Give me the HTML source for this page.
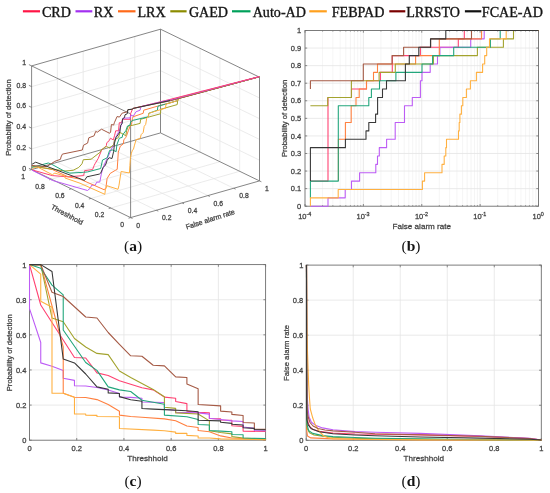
<!DOCTYPE html>
<html><head><meta charset="utf-8"><title>Detection performance comparison</title>
<style>html,body{margin:0;padding:0;background:#fff;}svg{display:block;}</style></head>
<body><svg width="550" height="493" viewBox="0 0 550 493">
<rect width="550" height="493" fill="#fff"/>
<defs>
<clipPath id="clipb"><rect x="305.0" y="29.5" width="234.5" height="177.7"/></clipPath>
<clipPath id="clipc"><rect x="28.5" y="263.6" width="238.1" height="177.6"/></clipPath>
<clipPath id="clipd"><rect x="305.2" y="264.1" width="237.1" height="177.2"/></clipPath>
</defs>
<line x1="22.9" y1="11.3" x2="40" y2="11.3" stroke="#ff1545" stroke-width="2.2" />
<text x="41.9" y="16.5" font-size="14.1" text-anchor="start" fill="#141414" font-family="'Liberation Serif', 'Times New Roman', serif" stroke="#141414" stroke-width="0.35" >CRD</text>
<line x1="75.5" y1="11.3" x2="92.3" y2="11.3" stroke="#a330f0" stroke-width="2.2" />
<text x="93.8" y="16.5" font-size="14.1" text-anchor="start" fill="#141414" font-family="'Liberation Serif', 'Times New Roman', serif" stroke="#141414" stroke-width="0.35" >RX</text>
<line x1="118" y1="11.3" x2="135.5" y2="11.3" stroke="#ff6a1a" stroke-width="2.2" />
<text x="137.4" y="16.5" font-size="14.1" text-anchor="start" fill="#141414" font-family="'Liberation Serif', 'Times New Roman', serif" stroke="#141414" stroke-width="0.35" >LRX</text>
<line x1="170.3" y1="11.3" x2="186.6" y2="11.3" stroke="#8c8c00" stroke-width="2.2" />
<text x="188.9" y="16.5" font-size="14.1" text-anchor="start" fill="#141414" font-family="'Liberation Serif', 'Times New Roman', serif" stroke="#141414" stroke-width="0.35" >GAED</text>
<line x1="232" y1="11.3" x2="250.5" y2="11.3" stroke="#00a05a" stroke-width="2.2" />
<text x="252.7" y="16.5" font-size="14.1" text-anchor="start" fill="#141414" font-family="'Liberation Serif', 'Times New Roman', serif" stroke="#141414" stroke-width="0.35" >Auto-AD</text>
<line x1="309.3" y1="11.3" x2="326.8" y2="11.3" stroke="#ffa01e" stroke-width="2.2" />
<text x="331.7" y="16.5" font-size="14.1" text-anchor="start" fill="#141414" font-family="'Liberation Serif', 'Times New Roman', serif" stroke="#141414" stroke-width="0.35" >FEBPAD</text>
<line x1="389.3" y1="11.3" x2="405.3" y2="11.3" stroke="#7a0000" stroke-width="2.2" />
<text x="406.2" y="16.5" font-size="14.1" text-anchor="start" fill="#141414" font-family="'Liberation Serif', 'Times New Roman', serif" stroke="#141414" stroke-width="0.35" >LRRSTO</text>
<line x1="464.9" y1="11.3" x2="481.3" y2="11.3" stroke="#111111" stroke-width="2.2" />
<text x="481.8" y="16.5" font-size="14.1" text-anchor="start" fill="#141414" font-family="'Liberation Serif', 'Times New Roman', serif" stroke="#141414" stroke-width="0.35" >FCAE-AD</text>
<line x1="322.57" y1="30.5" x2="322.57" y2="206.2" stroke="#f0f0f0" stroke-width="0.7" />
<line x1="332.85" y1="30.5" x2="332.85" y2="206.2" stroke="#f0f0f0" stroke-width="0.7" />
<line x1="340.15" y1="30.5" x2="340.15" y2="206.2" stroke="#f0f0f0" stroke-width="0.7" />
<line x1="345.8" y1="30.5" x2="345.8" y2="206.2" stroke="#f0f0f0" stroke-width="0.7" />
<line x1="350.42" y1="30.5" x2="350.42" y2="206.2" stroke="#f0f0f0" stroke-width="0.7" />
<line x1="354.33" y1="30.5" x2="354.33" y2="206.2" stroke="#f0f0f0" stroke-width="0.7" />
<line x1="357.72" y1="30.5" x2="357.72" y2="206.2" stroke="#f0f0f0" stroke-width="0.7" />
<line x1="360.7" y1="30.5" x2="360.7" y2="206.2" stroke="#f0f0f0" stroke-width="0.7" />
<line x1="380.95" y1="30.5" x2="380.95" y2="206.2" stroke="#f0f0f0" stroke-width="0.7" />
<line x1="391.23" y1="30.5" x2="391.23" y2="206.2" stroke="#f0f0f0" stroke-width="0.7" />
<line x1="398.52" y1="30.5" x2="398.52" y2="206.2" stroke="#f0f0f0" stroke-width="0.7" />
<line x1="404.18" y1="30.5" x2="404.18" y2="206.2" stroke="#f0f0f0" stroke-width="0.7" />
<line x1="408.8" y1="30.5" x2="408.8" y2="206.2" stroke="#f0f0f0" stroke-width="0.7" />
<line x1="412.71" y1="30.5" x2="412.71" y2="206.2" stroke="#f0f0f0" stroke-width="0.7" />
<line x1="416.09" y1="30.5" x2="416.09" y2="206.2" stroke="#f0f0f0" stroke-width="0.7" />
<line x1="419.08" y1="30.5" x2="419.08" y2="206.2" stroke="#f0f0f0" stroke-width="0.7" />
<line x1="439.32" y1="30.5" x2="439.32" y2="206.2" stroke="#f0f0f0" stroke-width="0.7" />
<line x1="449.6" y1="30.5" x2="449.6" y2="206.2" stroke="#f0f0f0" stroke-width="0.7" />
<line x1="456.9" y1="30.5" x2="456.9" y2="206.2" stroke="#f0f0f0" stroke-width="0.7" />
<line x1="462.55" y1="30.5" x2="462.55" y2="206.2" stroke="#f0f0f0" stroke-width="0.7" />
<line x1="467.17" y1="30.5" x2="467.17" y2="206.2" stroke="#f0f0f0" stroke-width="0.7" />
<line x1="471.08" y1="30.5" x2="471.08" y2="206.2" stroke="#f0f0f0" stroke-width="0.7" />
<line x1="474.47" y1="30.5" x2="474.47" y2="206.2" stroke="#f0f0f0" stroke-width="0.7" />
<line x1="477.45" y1="30.5" x2="477.45" y2="206.2" stroke="#f0f0f0" stroke-width="0.7" />
<line x1="497.7" y1="30.5" x2="497.7" y2="206.2" stroke="#f0f0f0" stroke-width="0.7" />
<line x1="507.98" y1="30.5" x2="507.98" y2="206.2" stroke="#f0f0f0" stroke-width="0.7" />
<line x1="515.27" y1="30.5" x2="515.27" y2="206.2" stroke="#f0f0f0" stroke-width="0.7" />
<line x1="520.93" y1="30.5" x2="520.93" y2="206.2" stroke="#f0f0f0" stroke-width="0.7" />
<line x1="525.55" y1="30.5" x2="525.55" y2="206.2" stroke="#f0f0f0" stroke-width="0.7" />
<line x1="529.46" y1="30.5" x2="529.46" y2="206.2" stroke="#f0f0f0" stroke-width="0.7" />
<line x1="532.84" y1="30.5" x2="532.84" y2="206.2" stroke="#f0f0f0" stroke-width="0.7" />
<line x1="535.83" y1="30.5" x2="535.83" y2="206.2" stroke="#f0f0f0" stroke-width="0.7" />
<line x1="363.38" y1="30.5" x2="363.38" y2="206.2" stroke="#e4e4e4" stroke-width="0.8" />
<line x1="421.75" y1="30.5" x2="421.75" y2="206.2" stroke="#e4e4e4" stroke-width="0.8" />
<line x1="480.12" y1="30.5" x2="480.12" y2="206.2" stroke="#e4e4e4" stroke-width="0.8" />
<line x1="305" y1="188.63" x2="538.5" y2="188.63" stroke="#e4e4e4" stroke-width="0.8" />
<line x1="305" y1="171.06" x2="538.5" y2="171.06" stroke="#e4e4e4" stroke-width="0.8" />
<line x1="305" y1="153.49" x2="538.5" y2="153.49" stroke="#e4e4e4" stroke-width="0.8" />
<line x1="305" y1="135.92" x2="538.5" y2="135.92" stroke="#e4e4e4" stroke-width="0.8" />
<line x1="305" y1="118.35" x2="538.5" y2="118.35" stroke="#e4e4e4" stroke-width="0.8" />
<line x1="305" y1="100.78" x2="538.5" y2="100.78" stroke="#e4e4e4" stroke-width="0.8" />
<line x1="305" y1="83.21" x2="538.5" y2="83.21" stroke="#e4e4e4" stroke-width="0.8" />
<line x1="305" y1="65.64" x2="538.5" y2="65.64" stroke="#e4e4e4" stroke-width="0.8" />
<line x1="305" y1="48.07" x2="538.5" y2="48.07" stroke="#e4e4e4" stroke-width="0.8" />
<rect x="305.0" y="30.5" width="233.5" height="175.7" fill="none" stroke="#6e6e6e" stroke-width="0.9"/>
<line x1="305" y1="206.2" x2="307.2" y2="206.2" stroke="#6e6e6e" stroke-width="0.8" />
<line x1="538.5" y1="206.2" x2="536.3" y2="206.2" stroke="#6e6e6e" stroke-width="0.8" />
<line x1="305" y1="188.63" x2="307.2" y2="188.63" stroke="#6e6e6e" stroke-width="0.8" />
<line x1="538.5" y1="188.63" x2="536.3" y2="188.63" stroke="#6e6e6e" stroke-width="0.8" />
<line x1="305" y1="171.06" x2="307.2" y2="171.06" stroke="#6e6e6e" stroke-width="0.8" />
<line x1="538.5" y1="171.06" x2="536.3" y2="171.06" stroke="#6e6e6e" stroke-width="0.8" />
<line x1="305" y1="153.49" x2="307.2" y2="153.49" stroke="#6e6e6e" stroke-width="0.8" />
<line x1="538.5" y1="153.49" x2="536.3" y2="153.49" stroke="#6e6e6e" stroke-width="0.8" />
<line x1="305" y1="135.92" x2="307.2" y2="135.92" stroke="#6e6e6e" stroke-width="0.8" />
<line x1="538.5" y1="135.92" x2="536.3" y2="135.92" stroke="#6e6e6e" stroke-width="0.8" />
<line x1="305" y1="118.35" x2="307.2" y2="118.35" stroke="#6e6e6e" stroke-width="0.8" />
<line x1="538.5" y1="118.35" x2="536.3" y2="118.35" stroke="#6e6e6e" stroke-width="0.8" />
<line x1="305" y1="100.78" x2="307.2" y2="100.78" stroke="#6e6e6e" stroke-width="0.8" />
<line x1="538.5" y1="100.78" x2="536.3" y2="100.78" stroke="#6e6e6e" stroke-width="0.8" />
<line x1="305" y1="83.21" x2="307.2" y2="83.21" stroke="#6e6e6e" stroke-width="0.8" />
<line x1="538.5" y1="83.21" x2="536.3" y2="83.21" stroke="#6e6e6e" stroke-width="0.8" />
<line x1="305" y1="65.64" x2="307.2" y2="65.64" stroke="#6e6e6e" stroke-width="0.8" />
<line x1="538.5" y1="65.64" x2="536.3" y2="65.64" stroke="#6e6e6e" stroke-width="0.8" />
<line x1="305" y1="48.07" x2="307.2" y2="48.07" stroke="#6e6e6e" stroke-width="0.8" />
<line x1="538.5" y1="48.07" x2="536.3" y2="48.07" stroke="#6e6e6e" stroke-width="0.8" />
<line x1="305" y1="30.5" x2="307.2" y2="30.5" stroke="#6e6e6e" stroke-width="0.8" />
<line x1="538.5" y1="30.5" x2="536.3" y2="30.5" stroke="#6e6e6e" stroke-width="0.8" />
<line x1="305" y1="206.2" x2="305" y2="204" stroke="#6e6e6e" stroke-width="0.8" />
<line x1="305" y1="30.5" x2="305" y2="32.7" stroke="#6e6e6e" stroke-width="0.8" />
<line x1="363.38" y1="206.2" x2="363.38" y2="204" stroke="#6e6e6e" stroke-width="0.8" />
<line x1="363.38" y1="30.5" x2="363.38" y2="32.7" stroke="#6e6e6e" stroke-width="0.8" />
<line x1="421.75" y1="206.2" x2="421.75" y2="204" stroke="#6e6e6e" stroke-width="0.8" />
<line x1="421.75" y1="30.5" x2="421.75" y2="32.7" stroke="#6e6e6e" stroke-width="0.8" />
<line x1="480.12" y1="206.2" x2="480.12" y2="204" stroke="#6e6e6e" stroke-width="0.8" />
<line x1="480.12" y1="30.5" x2="480.12" y2="32.7" stroke="#6e6e6e" stroke-width="0.8" />
<line x1="538.5" y1="206.2" x2="538.5" y2="204" stroke="#6e6e6e" stroke-width="0.8" />
<line x1="538.5" y1="30.5" x2="538.5" y2="32.7" stroke="#6e6e6e" stroke-width="0.8" />
<line x1="322.57" y1="206.2" x2="322.57" y2="205" stroke="#6e6e6e" stroke-width="0.6" />
<line x1="322.57" y1="30.5" x2="322.57" y2="31.7" stroke="#6e6e6e" stroke-width="0.6" />
<line x1="332.85" y1="206.2" x2="332.85" y2="205" stroke="#6e6e6e" stroke-width="0.6" />
<line x1="332.85" y1="30.5" x2="332.85" y2="31.7" stroke="#6e6e6e" stroke-width="0.6" />
<line x1="340.15" y1="206.2" x2="340.15" y2="205" stroke="#6e6e6e" stroke-width="0.6" />
<line x1="340.15" y1="30.5" x2="340.15" y2="31.7" stroke="#6e6e6e" stroke-width="0.6" />
<line x1="345.8" y1="206.2" x2="345.8" y2="205" stroke="#6e6e6e" stroke-width="0.6" />
<line x1="345.8" y1="30.5" x2="345.8" y2="31.7" stroke="#6e6e6e" stroke-width="0.6" />
<line x1="350.42" y1="206.2" x2="350.42" y2="205" stroke="#6e6e6e" stroke-width="0.6" />
<line x1="350.42" y1="30.5" x2="350.42" y2="31.7" stroke="#6e6e6e" stroke-width="0.6" />
<line x1="354.33" y1="206.2" x2="354.33" y2="205" stroke="#6e6e6e" stroke-width="0.6" />
<line x1="354.33" y1="30.5" x2="354.33" y2="31.7" stroke="#6e6e6e" stroke-width="0.6" />
<line x1="357.72" y1="206.2" x2="357.72" y2="205" stroke="#6e6e6e" stroke-width="0.6" />
<line x1="357.72" y1="30.5" x2="357.72" y2="31.7" stroke="#6e6e6e" stroke-width="0.6" />
<line x1="360.7" y1="206.2" x2="360.7" y2="205" stroke="#6e6e6e" stroke-width="0.6" />
<line x1="360.7" y1="30.5" x2="360.7" y2="31.7" stroke="#6e6e6e" stroke-width="0.6" />
<line x1="380.95" y1="206.2" x2="380.95" y2="205" stroke="#6e6e6e" stroke-width="0.6" />
<line x1="380.95" y1="30.5" x2="380.95" y2="31.7" stroke="#6e6e6e" stroke-width="0.6" />
<line x1="391.23" y1="206.2" x2="391.23" y2="205" stroke="#6e6e6e" stroke-width="0.6" />
<line x1="391.23" y1="30.5" x2="391.23" y2="31.7" stroke="#6e6e6e" stroke-width="0.6" />
<line x1="398.52" y1="206.2" x2="398.52" y2="205" stroke="#6e6e6e" stroke-width="0.6" />
<line x1="398.52" y1="30.5" x2="398.52" y2="31.7" stroke="#6e6e6e" stroke-width="0.6" />
<line x1="404.18" y1="206.2" x2="404.18" y2="205" stroke="#6e6e6e" stroke-width="0.6" />
<line x1="404.18" y1="30.5" x2="404.18" y2="31.7" stroke="#6e6e6e" stroke-width="0.6" />
<line x1="408.8" y1="206.2" x2="408.8" y2="205" stroke="#6e6e6e" stroke-width="0.6" />
<line x1="408.8" y1="30.5" x2="408.8" y2="31.7" stroke="#6e6e6e" stroke-width="0.6" />
<line x1="412.71" y1="206.2" x2="412.71" y2="205" stroke="#6e6e6e" stroke-width="0.6" />
<line x1="412.71" y1="30.5" x2="412.71" y2="31.7" stroke="#6e6e6e" stroke-width="0.6" />
<line x1="416.09" y1="206.2" x2="416.09" y2="205" stroke="#6e6e6e" stroke-width="0.6" />
<line x1="416.09" y1="30.5" x2="416.09" y2="31.7" stroke="#6e6e6e" stroke-width="0.6" />
<line x1="419.08" y1="206.2" x2="419.08" y2="205" stroke="#6e6e6e" stroke-width="0.6" />
<line x1="419.08" y1="30.5" x2="419.08" y2="31.7" stroke="#6e6e6e" stroke-width="0.6" />
<line x1="439.32" y1="206.2" x2="439.32" y2="205" stroke="#6e6e6e" stroke-width="0.6" />
<line x1="439.32" y1="30.5" x2="439.32" y2="31.7" stroke="#6e6e6e" stroke-width="0.6" />
<line x1="449.6" y1="206.2" x2="449.6" y2="205" stroke="#6e6e6e" stroke-width="0.6" />
<line x1="449.6" y1="30.5" x2="449.6" y2="31.7" stroke="#6e6e6e" stroke-width="0.6" />
<line x1="456.9" y1="206.2" x2="456.9" y2="205" stroke="#6e6e6e" stroke-width="0.6" />
<line x1="456.9" y1="30.5" x2="456.9" y2="31.7" stroke="#6e6e6e" stroke-width="0.6" />
<line x1="462.55" y1="206.2" x2="462.55" y2="205" stroke="#6e6e6e" stroke-width="0.6" />
<line x1="462.55" y1="30.5" x2="462.55" y2="31.7" stroke="#6e6e6e" stroke-width="0.6" />
<line x1="467.17" y1="206.2" x2="467.17" y2="205" stroke="#6e6e6e" stroke-width="0.6" />
<line x1="467.17" y1="30.5" x2="467.17" y2="31.7" stroke="#6e6e6e" stroke-width="0.6" />
<line x1="471.08" y1="206.2" x2="471.08" y2="205" stroke="#6e6e6e" stroke-width="0.6" />
<line x1="471.08" y1="30.5" x2="471.08" y2="31.7" stroke="#6e6e6e" stroke-width="0.6" />
<line x1="474.47" y1="206.2" x2="474.47" y2="205" stroke="#6e6e6e" stroke-width="0.6" />
<line x1="474.47" y1="30.5" x2="474.47" y2="31.7" stroke="#6e6e6e" stroke-width="0.6" />
<line x1="477.45" y1="206.2" x2="477.45" y2="205" stroke="#6e6e6e" stroke-width="0.6" />
<line x1="477.45" y1="30.5" x2="477.45" y2="31.7" stroke="#6e6e6e" stroke-width="0.6" />
<line x1="497.7" y1="206.2" x2="497.7" y2="205" stroke="#6e6e6e" stroke-width="0.6" />
<line x1="497.7" y1="30.5" x2="497.7" y2="31.7" stroke="#6e6e6e" stroke-width="0.6" />
<line x1="507.98" y1="206.2" x2="507.98" y2="205" stroke="#6e6e6e" stroke-width="0.6" />
<line x1="507.98" y1="30.5" x2="507.98" y2="31.7" stroke="#6e6e6e" stroke-width="0.6" />
<line x1="515.27" y1="206.2" x2="515.27" y2="205" stroke="#6e6e6e" stroke-width="0.6" />
<line x1="515.27" y1="30.5" x2="515.27" y2="31.7" stroke="#6e6e6e" stroke-width="0.6" />
<line x1="520.93" y1="206.2" x2="520.93" y2="205" stroke="#6e6e6e" stroke-width="0.6" />
<line x1="520.93" y1="30.5" x2="520.93" y2="31.7" stroke="#6e6e6e" stroke-width="0.6" />
<line x1="525.55" y1="206.2" x2="525.55" y2="205" stroke="#6e6e6e" stroke-width="0.6" />
<line x1="525.55" y1="30.5" x2="525.55" y2="31.7" stroke="#6e6e6e" stroke-width="0.6" />
<line x1="529.46" y1="206.2" x2="529.46" y2="205" stroke="#6e6e6e" stroke-width="0.6" />
<line x1="529.46" y1="30.5" x2="529.46" y2="31.7" stroke="#6e6e6e" stroke-width="0.6" />
<line x1="532.84" y1="206.2" x2="532.84" y2="205" stroke="#6e6e6e" stroke-width="0.6" />
<line x1="532.84" y1="30.5" x2="532.84" y2="31.7" stroke="#6e6e6e" stroke-width="0.6" />
<line x1="535.83" y1="206.2" x2="535.83" y2="205" stroke="#6e6e6e" stroke-width="0.6" />
<line x1="535.83" y1="30.5" x2="535.83" y2="31.7" stroke="#6e6e6e" stroke-width="0.6" />
<g clip-path="url(#clipb)">
<polyline points="310.4,181.1 328,181.1 328,97.43 351.5,97.43 351.5,89.07 366.5,89.07 366.5,80.7 380.4,80.7 380.4,72.33 392.3,72.33 392.3,55.6 420.4,55.6 420.4,47.23 458.3,47.23 458.3,38.87 464.3,38.87 464.3,30.5 538.5,30.5" fill="none" stroke="#ff4272" stroke-width="1.1" stroke-linejoin="round" />
<polyline points="310.4,206.2 328,206.2 328,197.83 345.2,197.83 345.2,189.47 351.5,189.47 351.5,181.1 359.6,181.1 359.6,172.73 375.8,172.73 375.8,164.37 377.5,164.37 377.5,156 379.3,156 379.3,147.63 386.6,147.63 386.6,139.27 395.2,139.27 395.2,122.53 404.5,122.53 404.5,105.8 412.3,105.8 412.3,97.43 420.4,97.43 420.4,80.7 422,80.7 422,72.33 430.2,72.33 430.2,63.97 437.5,63.97 437.5,55.6 439.9,55.6 439.9,47.23 470.7,47.23 470.7,38.87 484.2,38.87 484.2,30.5 538.5,30.5" fill="none" stroke="#bd5cf5" stroke-width="1.1" stroke-linejoin="round" />
<polyline points="338.4,181.1 338.4,181.1 338.4,139.27 345.4,139.27 345.4,122.53 351.2,122.53 351.2,105.8 356,105.8 356,97.43 359.2,97.43 359.2,89.07 366.5,89.07 366.5,80.7 373.5,80.7 373.5,72.33 377.5,72.33 377.5,63.97 415.6,63.97 415.6,55.6 439.3,55.6 439.3,38.87 481.6,38.87 481.6,30.5 538.5,30.5" fill="none" stroke="#ff8040" stroke-width="1.1" stroke-linejoin="round" />
<polyline points="310.4,105.8 327.7,105.8 327.7,97.43 351.4,97.43 351.4,80.7 379.1,80.7 379.1,72.33 395.3,72.33 395.3,63.97 433.4,63.97 433.4,55.6 477.4,55.6 477.4,47.23 503.4,47.23 503.4,38.87 513.5,38.87 513.5,30.5 538.5,30.5" fill="none" stroke="#a3a32e" stroke-width="1.1" stroke-linejoin="round" />
<polyline points="310.4,197.83 310.4,197.83 310.4,181.1 338.3,181.1 338.3,105.8 368.8,105.8 368.8,97.43 371.4,97.43 371.4,89.07 379.5,89.07 379.5,80.7 395.9,80.7 395.9,72.33 422,72.33 422,63.97 432.6,63.97 432.6,55.6 453.7,55.6 453.7,47.23 490.4,47.23 490.4,38.87 500.2,38.87 500.2,30.5 538.5,30.5" fill="none" stroke="#22a67c" stroke-width="1.1" stroke-linejoin="round" />
<polyline points="310.4,206.2 310.4,206.2 310.4,197.83 338.2,197.83 338.2,189.47 422.4,189.47 422.4,181.1 424.6,181.1 424.6,172.73 442,172.73 442,164.37 444.2,164.37 444.2,156 445.8,156 445.8,147.63 446.5,147.63 446.5,139.27 458.5,139.27 458.5,130.9 459.2,130.9 459.2,122.53 459.9,122.53 459.9,114.17 461.4,114.17 461.4,105.8 462.8,105.8 462.8,97.43 466.4,97.43 466.4,89.07 470.4,89.07 470.4,80.7 476.4,80.7 476.4,72.33 482.6,72.33 482.6,63.97 484.7,63.97 484.7,55.6 486.7,55.6 486.7,47.23 489.5,47.23 489.5,38.87 506.2,38.87 506.2,30.5 538.5,30.5" fill="none" stroke="#ffb040" stroke-width="1.1" stroke-linejoin="round" />
<polyline points="310.4,89.07 310.4,89.07 310.4,80.7 363.3,80.7 363.3,63.97 392.1,63.97 392.1,55.6 403.6,55.6 403.6,47.23 430.7,47.23 430.7,38.87 471.5,38.87 471.5,30.5 538.5,30.5" fill="none" stroke="#a55a45" stroke-width="1.1" stroke-linejoin="round" />
<polyline points="310.4,181.1 310.4,181.1 310.4,147.63 345.4,147.63 345.4,139.27 366,139.27 366,130.9 368.8,130.9 368.8,122.53 375.6,122.53 375.6,114.17 377.6,114.17 377.6,97.43 382.5,97.43 382.5,89.07 386.5,89.07 386.5,80.7 405.4,80.7 405.4,63.97 409.3,63.97 409.3,55.6 418.8,55.6 418.8,47.23 430.5,47.23 430.5,38.87 445.8,38.87 445.8,30.5 538.5,30.5" fill="none" stroke="#383838" stroke-width="1.1" stroke-linejoin="round" />
</g>
<text x="301.2" y="208.8" font-size="7.5" text-anchor="end" fill="#454545" font-family="'Liberation Sans', Arial, sans-serif" stroke="#454545" stroke-width="0.28" >0</text>
<text x="301.2" y="191.23" font-size="7.5" text-anchor="end" fill="#454545" font-family="'Liberation Sans', Arial, sans-serif" stroke="#454545" stroke-width="0.28" >0.1</text>
<text x="301.2" y="173.66" font-size="7.5" text-anchor="end" fill="#454545" font-family="'Liberation Sans', Arial, sans-serif" stroke="#454545" stroke-width="0.28" >0.2</text>
<text x="301.2" y="156.09" font-size="7.5" text-anchor="end" fill="#454545" font-family="'Liberation Sans', Arial, sans-serif" stroke="#454545" stroke-width="0.28" >0.3</text>
<text x="301.2" y="138.52" font-size="7.5" text-anchor="end" fill="#454545" font-family="'Liberation Sans', Arial, sans-serif" stroke="#454545" stroke-width="0.28" >0.4</text>
<text x="301.2" y="120.95" font-size="7.5" text-anchor="end" fill="#454545" font-family="'Liberation Sans', Arial, sans-serif" stroke="#454545" stroke-width="0.28" >0.5</text>
<text x="301.2" y="103.38" font-size="7.5" text-anchor="end" fill="#454545" font-family="'Liberation Sans', Arial, sans-serif" stroke="#454545" stroke-width="0.28" >0.6</text>
<text x="301.2" y="85.81" font-size="7.5" text-anchor="end" fill="#454545" font-family="'Liberation Sans', Arial, sans-serif" stroke="#454545" stroke-width="0.28" >0.7</text>
<text x="301.2" y="68.24" font-size="7.5" text-anchor="end" fill="#454545" font-family="'Liberation Sans', Arial, sans-serif" stroke="#454545" stroke-width="0.28" >0.8</text>
<text x="301.2" y="50.67" font-size="7.5" text-anchor="end" fill="#454545" font-family="'Liberation Sans', Arial, sans-serif" stroke="#454545" stroke-width="0.28" >0.9</text>
<text x="301.2" y="33.1" font-size="7.5" text-anchor="end" fill="#454545" font-family="'Liberation Sans', Arial, sans-serif" stroke="#454545" stroke-width="0.28" >1</text>
<text x="304.7" y="218.7" font-size="7.5" text-anchor="middle" fill="#454545" stroke="#454545" stroke-width="0.28" font-family="'Liberation Sans', Arial, sans-serif">10<tspan font-size="5.4" dy="-3.0">-4</tspan></text>
<text x="363.07" y="218.7" font-size="7.5" text-anchor="middle" fill="#454545" stroke="#454545" stroke-width="0.28" font-family="'Liberation Sans', Arial, sans-serif">10<tspan font-size="5.4" dy="-3.0">-3</tspan></text>
<text x="421.45" y="218.7" font-size="7.5" text-anchor="middle" fill="#454545" stroke="#454545" stroke-width="0.28" font-family="'Liberation Sans', Arial, sans-serif">10<tspan font-size="5.4" dy="-3.0">-2</tspan></text>
<text x="479.82" y="218.7" font-size="7.5" text-anchor="middle" fill="#454545" stroke="#454545" stroke-width="0.28" font-family="'Liberation Sans', Arial, sans-serif">10<tspan font-size="5.4" dy="-3.0">-1</tspan></text>
<text x="538.2" y="218.7" font-size="7.5" text-anchor="middle" fill="#454545" stroke="#454545" stroke-width="0.28" font-family="'Liberation Sans', Arial, sans-serif">10<tspan font-size="5.4" dy="-3.0">0</tspan></text>
<text x="421.8" y="228.8" font-size="8.1" text-anchor="middle" fill="#454545" font-family="'Liberation Sans', Arial, sans-serif" stroke="#454545" stroke-width="0.28" >False alarm rate</text>
<text x="0" y="0" font-size="7.65" text-anchor="middle" fill="#454545" font-family="'Liberation Sans', Arial, sans-serif" stroke="#454545" stroke-width="0.28" transform="translate(286.6,118.4) rotate(-90)">Probability of detection</text>
<text x="411" y="251" font-size="15.5" text-anchor="middle" fill="#141414" font-family="'Liberation Serif', 'Times New Roman', serif" >(<tspan font-weight="bold">b</tspan>)</text>
<line x1="76.72" y1="264.6" x2="76.72" y2="440.2" stroke="#e4e4e4" stroke-width="0.8" />
<line x1="29.5" y1="405.08" x2="265.6" y2="405.08" stroke="#e4e4e4" stroke-width="0.8" />
<line x1="123.94" y1="264.6" x2="123.94" y2="440.2" stroke="#e4e4e4" stroke-width="0.8" />
<line x1="29.5" y1="369.96" x2="265.6" y2="369.96" stroke="#e4e4e4" stroke-width="0.8" />
<line x1="171.16" y1="264.6" x2="171.16" y2="440.2" stroke="#e4e4e4" stroke-width="0.8" />
<line x1="29.5" y1="334.84" x2="265.6" y2="334.84" stroke="#e4e4e4" stroke-width="0.8" />
<line x1="218.38" y1="264.6" x2="218.38" y2="440.2" stroke="#e4e4e4" stroke-width="0.8" />
<line x1="29.5" y1="299.72" x2="265.6" y2="299.72" stroke="#e4e4e4" stroke-width="0.8" />
<rect x="29.5" y="264.6" width="236.1" height="175.6" fill="none" stroke="#6e6e6e" stroke-width="0.9"/>
<line x1="29.5" y1="440.2" x2="29.5" y2="438" stroke="#6e6e6e" stroke-width="0.8" />
<line x1="29.5" y1="264.6" x2="29.5" y2="266.8" stroke="#6e6e6e" stroke-width="0.8" />
<line x1="29.5" y1="440.2" x2="31.7" y2="440.2" stroke="#6e6e6e" stroke-width="0.8" />
<line x1="265.6" y1="440.2" x2="263.4" y2="440.2" stroke="#6e6e6e" stroke-width="0.8" />
<text x="26.4" y="443.2" font-size="7.5" text-anchor="end" fill="#454545" font-family="'Liberation Sans', Arial, sans-serif" stroke="#454545" stroke-width="0.28" >0</text>
<text x="29.5" y="450.6" font-size="7.5" text-anchor="middle" fill="#454545" font-family="'Liberation Sans', Arial, sans-serif" stroke="#454545" stroke-width="0.28" >0</text>
<line x1="76.72" y1="440.2" x2="76.72" y2="438" stroke="#6e6e6e" stroke-width="0.8" />
<line x1="76.72" y1="264.6" x2="76.72" y2="266.8" stroke="#6e6e6e" stroke-width="0.8" />
<line x1="29.5" y1="405.08" x2="31.7" y2="405.08" stroke="#6e6e6e" stroke-width="0.8" />
<line x1="265.6" y1="405.08" x2="263.4" y2="405.08" stroke="#6e6e6e" stroke-width="0.8" />
<text x="26.4" y="408.08" font-size="7.5" text-anchor="end" fill="#454545" font-family="'Liberation Sans', Arial, sans-serif" stroke="#454545" stroke-width="0.28" >0.2</text>
<text x="76.72" y="450.6" font-size="7.5" text-anchor="middle" fill="#454545" font-family="'Liberation Sans', Arial, sans-serif" stroke="#454545" stroke-width="0.28" >0.2</text>
<line x1="123.94" y1="440.2" x2="123.94" y2="438" stroke="#6e6e6e" stroke-width="0.8" />
<line x1="123.94" y1="264.6" x2="123.94" y2="266.8" stroke="#6e6e6e" stroke-width="0.8" />
<line x1="29.5" y1="369.96" x2="31.7" y2="369.96" stroke="#6e6e6e" stroke-width="0.8" />
<line x1="265.6" y1="369.96" x2="263.4" y2="369.96" stroke="#6e6e6e" stroke-width="0.8" />
<text x="26.4" y="372.96" font-size="7.5" text-anchor="end" fill="#454545" font-family="'Liberation Sans', Arial, sans-serif" stroke="#454545" stroke-width="0.28" >0.4</text>
<text x="123.94" y="450.6" font-size="7.5" text-anchor="middle" fill="#454545" font-family="'Liberation Sans', Arial, sans-serif" stroke="#454545" stroke-width="0.28" >0.4</text>
<line x1="171.16" y1="440.2" x2="171.16" y2="438" stroke="#6e6e6e" stroke-width="0.8" />
<line x1="171.16" y1="264.6" x2="171.16" y2="266.8" stroke="#6e6e6e" stroke-width="0.8" />
<line x1="29.5" y1="334.84" x2="31.7" y2="334.84" stroke="#6e6e6e" stroke-width="0.8" />
<line x1="265.6" y1="334.84" x2="263.4" y2="334.84" stroke="#6e6e6e" stroke-width="0.8" />
<text x="26.4" y="337.84" font-size="7.5" text-anchor="end" fill="#454545" font-family="'Liberation Sans', Arial, sans-serif" stroke="#454545" stroke-width="0.28" >0.6</text>
<text x="171.16" y="450.6" font-size="7.5" text-anchor="middle" fill="#454545" font-family="'Liberation Sans', Arial, sans-serif" stroke="#454545" stroke-width="0.28" >0.6</text>
<line x1="218.38" y1="440.2" x2="218.38" y2="438" stroke="#6e6e6e" stroke-width="0.8" />
<line x1="218.38" y1="264.6" x2="218.38" y2="266.8" stroke="#6e6e6e" stroke-width="0.8" />
<line x1="29.5" y1="299.72" x2="31.7" y2="299.72" stroke="#6e6e6e" stroke-width="0.8" />
<line x1="265.6" y1="299.72" x2="263.4" y2="299.72" stroke="#6e6e6e" stroke-width="0.8" />
<text x="26.4" y="302.72" font-size="7.5" text-anchor="end" fill="#454545" font-family="'Liberation Sans', Arial, sans-serif" stroke="#454545" stroke-width="0.28" >0.8</text>
<text x="218.38" y="450.6" font-size="7.5" text-anchor="middle" fill="#454545" font-family="'Liberation Sans', Arial, sans-serif" stroke="#454545" stroke-width="0.28" >0.8</text>
<line x1="265.6" y1="440.2" x2="265.6" y2="438" stroke="#6e6e6e" stroke-width="0.8" />
<line x1="265.6" y1="264.6" x2="265.6" y2="266.8" stroke="#6e6e6e" stroke-width="0.8" />
<line x1="29.5" y1="264.6" x2="31.7" y2="264.6" stroke="#6e6e6e" stroke-width="0.8" />
<line x1="265.6" y1="264.6" x2="263.4" y2="264.6" stroke="#6e6e6e" stroke-width="0.8" />
<text x="26.4" y="267.6" font-size="7.5" text-anchor="end" fill="#454545" font-family="'Liberation Sans', Arial, sans-serif" stroke="#454545" stroke-width="0.28" >1</text>
<text x="265.6" y="450.6" font-size="7.5" text-anchor="middle" fill="#454545" font-family="'Liberation Sans', Arial, sans-serif" stroke="#454545" stroke-width="0.28" >1</text>
<g clip-path="url(#clipc)">
<polyline points="29.5,264.6 40.74,305 74.47,357.5 85.71,358 96.96,372.9 108.2,375.5 119.44,380.8 130.69,384.3 141.93,387.8 153.17,389.9 164.41,397.1 175.66,398.2 175.66,401.5 186.9,403.6 186.9,411.3 198.14,412.4 209.39,412.7 209.39,418.5 220.63,418.9 220.63,420 231.87,420.2 231.87,425.7 243.11,426.4 243.11,431.1 265.6,431.5" fill="none" stroke="#ff4272" stroke-width="1.1" stroke-linejoin="round" />
<polyline points="29.5,264.6 29.5,308.7 40.74,342.5 40.74,362.9 51.99,366.2 63.23,370.5 63.23,378.2 74.47,380.4 74.47,385.8 85.71,386 96.96,387.5 108.2,389.9 119.44,393.5 119.44,397 130.69,397.4 141.93,398.2 141.93,402 164.41,402.5 164.41,409.3 175.66,410.2 175.66,412.4 198.14,412.9 209.39,414.1 209.39,418.2 220.63,419.5 231.87,420.9 243.11,421.5 243.11,427 254.36,428.4 254.36,430.5 265.6,430.7" fill="none" stroke="#bd5cf5" stroke-width="1.1" stroke-linejoin="round" />
<polyline points="29.5,264.6 40.74,264.6 63.23,347 63.23,393.3 74.47,397.2 85.71,397.5 96.96,399.6 108.2,404.5 119.44,411.2 119.44,415.1 130.69,416.5 141.93,417.3 164.41,418.9 175.66,420.7 186.9,426 198.14,427.5 198.14,430.5 209.39,431.8 220.63,435.9 231.87,438 265.6,439.6" fill="none" stroke="#ff8040" stroke-width="1.1" stroke-linejoin="round" />
<polyline points="29.5,264.6 40.74,264.6 51.99,318 63.23,321.8 74.47,338.5 85.71,347 96.96,353.4 108.2,354.6 119.44,371 130.69,377.5 141.93,383.5 153.17,389.4 164.41,396.8 164.41,407.3 175.66,408.4 175.66,412.9 198.14,414 209.39,420.9 209.39,430.7 220.63,432.5 231.87,433.9 231.87,436.6 243.11,438 265.6,439.3" fill="none" stroke="#a3a32e" stroke-width="1.1" stroke-linejoin="round" />
<polyline points="29.5,264.6 40.74,268.2 51.99,285.1 63.23,294.9 63.23,330 85.71,362.5 96.96,370.4 108.2,386.9 119.44,389.9 130.69,391.5 141.93,400.2 164.41,404.3 164.41,415.1 186.9,416.7 198.14,419.5 198.14,424.5 209.39,425 209.39,430.5 220.63,431.1 231.87,431.8 231.87,434.5 243.11,434.8 243.11,438 265.6,438.6" fill="none" stroke="#22a67c" stroke-width="1.1" stroke-linejoin="round" />
<polyline points="29.5,264.6 40.74,274.2 40.74,301.2 51.99,307.3 51.99,393.3 63.23,393.3 74.47,397.2 74.47,414 85.71,414 85.71,415.1 96.96,415.4 96.96,416.5 119.44,416.8 119.44,428.5 153.17,430.1 164.41,430.8 175.66,432.1 175.66,433.4 186.9,433.4 186.9,435.4 198.14,436 198.14,438 209.39,438 220.63,438.9 265.6,439.7" fill="none" stroke="#ffb040" stroke-width="1.1" stroke-linejoin="round" />
<polyline points="29.5,264.6 40.74,264.6 51.99,292.2 63.23,296.5 85.71,317 96.96,318 108.2,332.5 119.44,344.3 130.69,355.8 141.93,356.2 153.17,365.3 164.41,365.9 175.66,376.9 186.9,377.5 186.9,384 198.14,388.8 198.14,404.5 220.63,405.9 220.63,411.1 231.87,412 231.87,414.4 243.11,415.5 243.11,422.5 254.36,423 254.36,429.1 265.6,429.4" fill="none" stroke="#a55a45" stroke-width="1.1" stroke-linejoin="round" />
<polyline points="29.5,264.6 40.74,264.6 51.99,271.5 63.23,359 74.47,362.9 85.71,374 96.96,386.9 108.2,389.3 108.2,392.9 119.44,393.5 119.44,396.6 130.69,399.8 141.93,401.3 141.93,408.5 153.17,409.1 164.41,409.6 186.9,410.7 198.14,411.8 198.14,420.2 220.63,420.9 220.63,422.3 231.87,423.4 231.87,424.3 243.11,425 243.11,427.7 254.36,428.4 254.36,429.5 265.6,429.8" fill="none" stroke="#383838" stroke-width="1.1" stroke-linejoin="round" />
</g>
<text x="147.55" y="460.6" font-size="8.1" text-anchor="middle" fill="#454545" font-family="'Liberation Sans', Arial, sans-serif" stroke="#454545" stroke-width="0.28" >Threshhold</text>
<text x="0" y="0" font-size="7.6" text-anchor="middle" fill="#454545" font-family="'Liberation Sans', Arial, sans-serif" stroke="#454545" stroke-width="0.28" transform="translate(11.9,352.8) rotate(-90)">Probability of detection</text>
<text x="133" y="485.8" font-size="15.5" text-anchor="middle" fill="#141414" font-family="'Liberation Serif', 'Times New Roman', serif" >(<tspan font-weight="bold">c</tspan>)</text>
<line x1="353.22" y1="265.1" x2="353.22" y2="440.3" stroke="#e4e4e4" stroke-width="0.8" />
<line x1="306.2" y1="405.26" x2="541.3" y2="405.26" stroke="#e4e4e4" stroke-width="0.8" />
<line x1="400.24" y1="265.1" x2="400.24" y2="440.3" stroke="#e4e4e4" stroke-width="0.8" />
<line x1="306.2" y1="370.22" x2="541.3" y2="370.22" stroke="#e4e4e4" stroke-width="0.8" />
<line x1="447.26" y1="265.1" x2="447.26" y2="440.3" stroke="#e4e4e4" stroke-width="0.8" />
<line x1="306.2" y1="335.18" x2="541.3" y2="335.18" stroke="#e4e4e4" stroke-width="0.8" />
<line x1="494.28" y1="265.1" x2="494.28" y2="440.3" stroke="#e4e4e4" stroke-width="0.8" />
<line x1="306.2" y1="300.14" x2="541.3" y2="300.14" stroke="#e4e4e4" stroke-width="0.8" />
<rect x="306.2" y="265.1" width="235.1" height="175.2" fill="none" stroke="#6e6e6e" stroke-width="0.9"/>
<line x1="306.2" y1="440.3" x2="306.2" y2="438.1" stroke="#6e6e6e" stroke-width="0.8" />
<line x1="306.2" y1="265.1" x2="306.2" y2="267.3" stroke="#6e6e6e" stroke-width="0.8" />
<line x1="306.2" y1="440.3" x2="308.4" y2="440.3" stroke="#6e6e6e" stroke-width="0.8" />
<line x1="541.3" y1="440.3" x2="539.1" y2="440.3" stroke="#6e6e6e" stroke-width="0.8" />
<text x="303.3" y="443.3" font-size="7.5" text-anchor="end" fill="#454545" font-family="'Liberation Sans', Arial, sans-serif" stroke="#454545" stroke-width="0.28" >0</text>
<text x="306.2" y="450.7" font-size="7.5" text-anchor="middle" fill="#454545" font-family="'Liberation Sans', Arial, sans-serif" stroke="#454545" stroke-width="0.28" >0</text>
<line x1="353.22" y1="440.3" x2="353.22" y2="438.1" stroke="#6e6e6e" stroke-width="0.8" />
<line x1="353.22" y1="265.1" x2="353.22" y2="267.3" stroke="#6e6e6e" stroke-width="0.8" />
<line x1="306.2" y1="405.26" x2="308.4" y2="405.26" stroke="#6e6e6e" stroke-width="0.8" />
<line x1="541.3" y1="405.26" x2="539.1" y2="405.26" stroke="#6e6e6e" stroke-width="0.8" />
<text x="303.3" y="408.26" font-size="7.5" text-anchor="end" fill="#454545" font-family="'Liberation Sans', Arial, sans-serif" stroke="#454545" stroke-width="0.28" >0.2</text>
<text x="353.22" y="450.7" font-size="7.5" text-anchor="middle" fill="#454545" font-family="'Liberation Sans', Arial, sans-serif" stroke="#454545" stroke-width="0.28" >0.2</text>
<line x1="400.24" y1="440.3" x2="400.24" y2="438.1" stroke="#6e6e6e" stroke-width="0.8" />
<line x1="400.24" y1="265.1" x2="400.24" y2="267.3" stroke="#6e6e6e" stroke-width="0.8" />
<line x1="306.2" y1="370.22" x2="308.4" y2="370.22" stroke="#6e6e6e" stroke-width="0.8" />
<line x1="541.3" y1="370.22" x2="539.1" y2="370.22" stroke="#6e6e6e" stroke-width="0.8" />
<text x="303.3" y="373.22" font-size="7.5" text-anchor="end" fill="#454545" font-family="'Liberation Sans', Arial, sans-serif" stroke="#454545" stroke-width="0.28" >0.4</text>
<text x="400.24" y="450.7" font-size="7.5" text-anchor="middle" fill="#454545" font-family="'Liberation Sans', Arial, sans-serif" stroke="#454545" stroke-width="0.28" >0.4</text>
<line x1="447.26" y1="440.3" x2="447.26" y2="438.1" stroke="#6e6e6e" stroke-width="0.8" />
<line x1="447.26" y1="265.1" x2="447.26" y2="267.3" stroke="#6e6e6e" stroke-width="0.8" />
<line x1="306.2" y1="335.18" x2="308.4" y2="335.18" stroke="#6e6e6e" stroke-width="0.8" />
<line x1="541.3" y1="335.18" x2="539.1" y2="335.18" stroke="#6e6e6e" stroke-width="0.8" />
<text x="303.3" y="338.18" font-size="7.5" text-anchor="end" fill="#454545" font-family="'Liberation Sans', Arial, sans-serif" stroke="#454545" stroke-width="0.28" >0.6</text>
<text x="447.26" y="450.7" font-size="7.5" text-anchor="middle" fill="#454545" font-family="'Liberation Sans', Arial, sans-serif" stroke="#454545" stroke-width="0.28" >0.6</text>
<line x1="494.28" y1="440.3" x2="494.28" y2="438.1" stroke="#6e6e6e" stroke-width="0.8" />
<line x1="494.28" y1="265.1" x2="494.28" y2="267.3" stroke="#6e6e6e" stroke-width="0.8" />
<line x1="306.2" y1="300.14" x2="308.4" y2="300.14" stroke="#6e6e6e" stroke-width="0.8" />
<line x1="541.3" y1="300.14" x2="539.1" y2="300.14" stroke="#6e6e6e" stroke-width="0.8" />
<text x="303.3" y="303.14" font-size="7.5" text-anchor="end" fill="#454545" font-family="'Liberation Sans', Arial, sans-serif" stroke="#454545" stroke-width="0.28" >0.8</text>
<text x="494.28" y="450.7" font-size="7.5" text-anchor="middle" fill="#454545" font-family="'Liberation Sans', Arial, sans-serif" stroke="#454545" stroke-width="0.28" >0.8</text>
<line x1="541.3" y1="440.3" x2="541.3" y2="438.1" stroke="#6e6e6e" stroke-width="0.8" />
<line x1="541.3" y1="265.1" x2="541.3" y2="267.3" stroke="#6e6e6e" stroke-width="0.8" />
<line x1="306.2" y1="265.1" x2="308.4" y2="265.1" stroke="#6e6e6e" stroke-width="0.8" />
<line x1="541.3" y1="265.1" x2="539.1" y2="265.1" stroke="#6e6e6e" stroke-width="0.8" />
<text x="303.3" y="268.1" font-size="7.5" text-anchor="end" fill="#454545" font-family="'Liberation Sans', Arial, sans-serif" stroke="#454545" stroke-width="0.28" >1</text>
<text x="541.3" y="450.7" font-size="7.5" text-anchor="middle" fill="#454545" font-family="'Liberation Sans', Arial, sans-serif" stroke="#454545" stroke-width="0.28" >1</text>
<g clip-path="url(#clipd)">
<polyline points="306.5,265.1 306.8,405 307.2,416 308.2,423 310,426.8 313,429.5 319.2,431.4 333,433.1 355,434 375,434.2 420,434.9 480,436.4 530,438.6 541.3,440" fill="none" stroke="#ff4272" stroke-width="1.1" stroke-linejoin="round" />
<polyline points="306.5,265.1 306.7,370 307,385 307.5,400 308.1,409 309.1,417 311.4,422.3 316,425.6 322.5,427.9 333,429.8 355,431.6 375,432.3 420,433.4 480,435.8 530,438.3 541.3,440" fill="none" stroke="#bd5cf5" stroke-width="1.1" stroke-linejoin="round" />
<polyline points="306.5,265.1 306.6,429.5 307.5,436 310.8,437.9 333,438.9 420,439.8 541.3,440.1" fill="none" stroke="#ff8040" stroke-width="1.1" stroke-linejoin="round" />
<polyline points="306.5,265.1 306.7,420 307,428 309.5,432.8 314,435 322.5,436.3 333,437.2 355,438.2 375,438.8 420,439.3 480,439.8 541.3,440.1" fill="none" stroke="#a3a32e" stroke-width="1.1" stroke-linejoin="round" />
<polyline points="306.5,265.1 306.7,415 306.9,424.3 308.8,430.8 312.7,433.4 322.5,435.6 333,436.6 355,437.5 375,438.2 420,438.9 480,439.7 541.3,440.1" fill="none" stroke="#22a67c" stroke-width="1.1" stroke-linejoin="round" />
<polyline points="306.5,265.1 306.9,330 307.6,355 308.1,370 308.7,385 309.4,397 310.3,409 312.7,417.8 315.3,424.9 319.2,431.4 323.8,436 329,437.9 333,438.6 355,439.3 420,439.9 541.3,440.1" fill="none" stroke="#ffb040" stroke-width="1.1" stroke-linejoin="round" />
<polyline points="306.5,265.1 306.8,400 307.3,412 308.5,418 310,422.5 313,426 318,428.5 325,430 333,430.9 355,432.2 375,433.8 420,434.7 480,436.3 530,438.5 541.3,440" fill="none" stroke="#a55a45" stroke-width="1.1" stroke-linejoin="round" />
<polyline points="306.5,265.1 306.7,410 306.9,419.7 308.2,424.9 311.4,428.8 319.2,431.8 333,433.8 355,435 375,435.8 420,437 480,438.1 530,439.3 541.3,440" fill="none" stroke="#383838" stroke-width="1.1" stroke-linejoin="round" />
</g>
<text x="423.75" y="460.6" font-size="8.1" text-anchor="middle" fill="#454545" font-family="'Liberation Sans', Arial, sans-serif" stroke="#454545" stroke-width="0.28" >Threshhold</text>
<text x="0" y="0" font-size="7.75" text-anchor="middle" fill="#454545" font-family="'Liberation Sans', Arial, sans-serif" stroke="#454545" stroke-width="0.28" transform="translate(288.8,353) rotate(-90)">False alarm rate</text>
<text x="411" y="485.8" font-size="15.5" text-anchor="middle" fill="#141414" font-family="'Liberation Serif', 'Times New Roman', serif" >(<tspan font-weight="bold">d</tspan>)</text>
<line x1="31.6" y1="148.86" x2="160.5" y2="112.16" stroke="#e6e6e6" stroke-width="0.8" />
<line x1="57.38" y1="162.26" x2="57.38" y2="58.56" stroke="#e6e6e6" stroke-width="0.8" />
<line x1="259.5" y1="160.16" x2="160.5" y2="112.16" stroke="#e6e6e6" stroke-width="0.8" />
<line x1="239.7" y1="171.3" x2="239.7" y2="67.6" stroke="#e6e6e6" stroke-width="0.8" />
<line x1="110.8" y1="208" x2="239.7" y2="171.3" stroke="#e6e6e6" stroke-width="0.8" />
<line x1="156.38" y1="210.26" x2="57.38" y2="162.26" stroke="#e6e6e6" stroke-width="0.8" />
<line x1="31.6" y1="128.12" x2="160.5" y2="91.42" stroke="#e6e6e6" stroke-width="0.8" />
<line x1="83.16" y1="154.92" x2="83.16" y2="51.22" stroke="#e6e6e6" stroke-width="0.8" />
<line x1="259.5" y1="139.42" x2="160.5" y2="91.42" stroke="#e6e6e6" stroke-width="0.8" />
<line x1="219.9" y1="161.7" x2="219.9" y2="58" stroke="#e6e6e6" stroke-width="0.8" />
<line x1="91" y1="198.4" x2="219.9" y2="161.7" stroke="#e6e6e6" stroke-width="0.8" />
<line x1="182.16" y1="202.92" x2="83.16" y2="154.92" stroke="#e6e6e6" stroke-width="0.8" />
<line x1="31.6" y1="107.38" x2="160.5" y2="70.68" stroke="#e6e6e6" stroke-width="0.8" />
<line x1="108.94" y1="147.58" x2="108.94" y2="43.88" stroke="#e6e6e6" stroke-width="0.8" />
<line x1="259.5" y1="118.68" x2="160.5" y2="70.68" stroke="#e6e6e6" stroke-width="0.8" />
<line x1="200.1" y1="152.1" x2="200.1" y2="48.4" stroke="#e6e6e6" stroke-width="0.8" />
<line x1="71.2" y1="188.8" x2="200.1" y2="152.1" stroke="#e6e6e6" stroke-width="0.8" />
<line x1="207.94" y1="195.58" x2="108.94" y2="147.58" stroke="#e6e6e6" stroke-width="0.8" />
<line x1="31.6" y1="86.64" x2="160.5" y2="49.94" stroke="#e6e6e6" stroke-width="0.8" />
<line x1="134.72" y1="140.24" x2="134.72" y2="36.54" stroke="#e6e6e6" stroke-width="0.8" />
<line x1="259.5" y1="97.94" x2="160.5" y2="49.94" stroke="#e6e6e6" stroke-width="0.8" />
<line x1="180.3" y1="142.5" x2="180.3" y2="38.8" stroke="#e6e6e6" stroke-width="0.8" />
<line x1="51.4" y1="179.2" x2="180.3" y2="142.5" stroke="#e6e6e6" stroke-width="0.8" />
<line x1="233.72" y1="188.24" x2="134.72" y2="140.24" stroke="#e6e6e6" stroke-width="0.8" />
<line x1="31.6" y1="65.9" x2="160.5" y2="29.2" stroke="#707070" stroke-width="0.85" />
<line x1="160.5" y1="29.2" x2="259.5" y2="77.2" stroke="#707070" stroke-width="0.85" />
<line x1="31.6" y1="65.9" x2="130.6" y2="113.9" stroke="#707070" stroke-width="0.85" />
<line x1="130.6" y1="113.9" x2="130.6" y2="217.6" stroke="#707070" stroke-width="0.85" />
<line x1="160.5" y1="29.2" x2="160.5" y2="132.9" stroke="#707070" stroke-width="0.85" />
<line x1="259.5" y1="77.2" x2="259.5" y2="180.9" stroke="#707070" stroke-width="0.85" />
<line x1="31.6" y1="65.9" x2="31.6" y2="169.6" stroke="#707070" stroke-width="0.85" />
<line x1="31.6" y1="169.6" x2="130.6" y2="217.6" stroke="#707070" stroke-width="0.85" />
<line x1="130.6" y1="217.6" x2="259.5" y2="180.9" stroke="#707070" stroke-width="0.85" />
<line x1="31.6" y1="169.6" x2="160.5" y2="132.9" stroke="#707070" stroke-width="0.85" />
<line x1="160.5" y1="132.9" x2="259.5" y2="180.9" stroke="#707070" stroke-width="0.85" />
<line x1="31.6" y1="169.6" x2="28.9" y2="168.3" stroke="#707070" stroke-width="0.8" />
<line x1="130.6" y1="217.6" x2="128.5" y2="218.2" stroke="#707070" stroke-width="0.8" />
<line x1="130.6" y1="217.6" x2="132.5" y2="218.5" stroke="#707070" stroke-width="0.8" />
<line x1="31.6" y1="148.86" x2="28.9" y2="147.56" stroke="#707070" stroke-width="0.8" />
<line x1="110.8" y1="208" x2="108.7" y2="208.6" stroke="#707070" stroke-width="0.8" />
<line x1="156.38" y1="210.26" x2="158.28" y2="211.16" stroke="#707070" stroke-width="0.8" />
<line x1="31.6" y1="128.12" x2="28.9" y2="126.82" stroke="#707070" stroke-width="0.8" />
<line x1="91" y1="198.4" x2="88.9" y2="199" stroke="#707070" stroke-width="0.8" />
<line x1="182.16" y1="202.92" x2="184.06" y2="203.82" stroke="#707070" stroke-width="0.8" />
<line x1="31.6" y1="107.38" x2="28.9" y2="106.08" stroke="#707070" stroke-width="0.8" />
<line x1="71.2" y1="188.8" x2="69.1" y2="189.4" stroke="#707070" stroke-width="0.8" />
<line x1="207.94" y1="195.58" x2="209.84" y2="196.48" stroke="#707070" stroke-width="0.8" />
<line x1="31.6" y1="86.64" x2="28.9" y2="85.34" stroke="#707070" stroke-width="0.8" />
<line x1="51.4" y1="179.2" x2="49.3" y2="179.8" stroke="#707070" stroke-width="0.8" />
<line x1="233.72" y1="188.24" x2="235.62" y2="189.14" stroke="#707070" stroke-width="0.8" />
<line x1="31.6" y1="65.9" x2="28.9" y2="64.6" stroke="#707070" stroke-width="0.8" />
<line x1="31.6" y1="169.6" x2="29.5" y2="170.2" stroke="#707070" stroke-width="0.8" />
<line x1="259.5" y1="180.9" x2="261.4" y2="181.8" stroke="#707070" stroke-width="0.8" />
<text x="26" y="170.6" font-size="6.9" text-anchor="end" fill="#454545" font-family="'Liberation Sans', Arial, sans-serif" stroke="#454545" stroke-width="0.28" >0</text>
<text x="124" y="227" font-size="6.8" text-anchor="end" fill="#454545" font-family="'Liberation Sans', Arial, sans-serif" stroke="#454545" stroke-width="0.28" >0</text>
<text x="136.2" y="227.8" font-size="6.8" text-anchor="start" fill="#454545" font-family="'Liberation Sans', Arial, sans-serif" stroke="#454545" stroke-width="0.28" >0</text>
<text x="26" y="149.86" font-size="6.9" text-anchor="end" fill="#454545" font-family="'Liberation Sans', Arial, sans-serif" stroke="#454545" stroke-width="0.28" >0.2</text>
<text x="104.2" y="217.4" font-size="6.8" text-anchor="end" fill="#454545" font-family="'Liberation Sans', Arial, sans-serif" stroke="#454545" stroke-width="0.28" >0.2</text>
<text x="161.98" y="220.46" font-size="6.8" text-anchor="start" fill="#454545" font-family="'Liberation Sans', Arial, sans-serif" stroke="#454545" stroke-width="0.28" >0.2</text>
<text x="26" y="129.12" font-size="6.9" text-anchor="end" fill="#454545" font-family="'Liberation Sans', Arial, sans-serif" stroke="#454545" stroke-width="0.28" >0.4</text>
<text x="84.4" y="207.8" font-size="6.8" text-anchor="end" fill="#454545" font-family="'Liberation Sans', Arial, sans-serif" stroke="#454545" stroke-width="0.28" >0.4</text>
<text x="187.76" y="213.12" font-size="6.8" text-anchor="start" fill="#454545" font-family="'Liberation Sans', Arial, sans-serif" stroke="#454545" stroke-width="0.28" >0.4</text>
<text x="26" y="108.38" font-size="6.9" text-anchor="end" fill="#454545" font-family="'Liberation Sans', Arial, sans-serif" stroke="#454545" stroke-width="0.28" >0.6</text>
<text x="64.6" y="198.2" font-size="6.8" text-anchor="end" fill="#454545" font-family="'Liberation Sans', Arial, sans-serif" stroke="#454545" stroke-width="0.28" >0.6</text>
<text x="213.54" y="205.78" font-size="6.8" text-anchor="start" fill="#454545" font-family="'Liberation Sans', Arial, sans-serif" stroke="#454545" stroke-width="0.28" >0.6</text>
<text x="26" y="87.64" font-size="6.9" text-anchor="end" fill="#454545" font-family="'Liberation Sans', Arial, sans-serif" stroke="#454545" stroke-width="0.28" >0.8</text>
<text x="44.8" y="188.6" font-size="6.8" text-anchor="end" fill="#454545" font-family="'Liberation Sans', Arial, sans-serif" stroke="#454545" stroke-width="0.28" >0.8</text>
<text x="239.32" y="198.44" font-size="6.8" text-anchor="start" fill="#454545" font-family="'Liberation Sans', Arial, sans-serif" stroke="#454545" stroke-width="0.28" >0.8</text>
<text x="26" y="65.3" font-size="6.9" text-anchor="end" fill="#454545" font-family="'Liberation Sans', Arial, sans-serif" stroke="#454545" stroke-width="0.28" >1</text>
<text x="25" y="179" font-size="6.8" text-anchor="end" fill="#454545" font-family="'Liberation Sans', Arial, sans-serif" stroke="#454545" stroke-width="0.28" >1</text>
<text x="265.1" y="191.1" font-size="6.8" text-anchor="start" fill="#454545" font-family="'Liberation Sans', Arial, sans-serif" stroke="#454545" stroke-width="0.28" >1</text>
<text x="0" y="0" font-size="7.55" text-anchor="middle" fill="#454545" font-family="'Liberation Sans', Arial, sans-serif" stroke="#454545" stroke-width="0.28" transform="translate(10.9,117.5) rotate(-90)">Probability of detection</text>
<text x="0" y="0" font-size="7.0" text-anchor="middle" fill="#454545" font-family="'Liberation Sans', Arial, sans-serif" stroke="#454545" stroke-width="0.28" transform="translate(66.0,216.8) rotate(28)">Threshhold</text>
<text x="0" y="0" font-size="7.1" text-anchor="middle" fill="#454545" font-family="'Liberation Sans', Arial, sans-serif" stroke="#454545" stroke-width="0.28" transform="translate(211.0,221.6) rotate(-18)">False alarm rate</text>
<text x="133" y="251.2" font-size="15.5" text-anchor="middle" fill="#141414" font-family="'Liberation Serif', 'Times New Roman', serif" >(<tspan font-weight="bold">a</tspan>)</text>
<polyline points="32.1,169.9 52.3,175.6 68,176.8 83.7,175.6 84.5,170.7 92.6,169.5 94.2,165.4 95,163.8 98.2,158.5 101.5,150.4 106.4,145.5 106.8,142.7 109.2,140.7 110.4,138.2 113.3,139.9 114.5,135.8 115.7,130.8 118.5,130.8 119.3,122.7 121.5,122.7 122.6,119.3 130.2,119.3 130.7,113.4 132.4,109.4 133.6,108.4 170,99.4" fill="none" stroke="#ff4272" stroke-width="1.0" stroke-linejoin="round" />
<polyline points="32.1,170.3 52.3,180.4 68,184.9 87.5,190.5 90.1,188.3 91.7,185.2 95.2,185.2 96.7,182.2 99.8,182 101.3,174.1 102.3,170 105.5,161.8 108,156.9 110.4,151.2 113.3,145.5 114.5,140.7 116.5,135.7 119.3,130.8 121,126 122.6,120.3 123,118.2 130.2,117.9 130.7,115.4 132.4,115.4 133,116.5 136.1,111.7 140.1,110.2 140.6,107.7 142,106.3 170,99.9" fill="none" stroke="#bd5cf5" stroke-width="1.0" stroke-linejoin="round" />
<polyline points="32.1,165.8 52.3,169.5 68,176.8 80,179.1 104.3,189.8 105.9,187.7 107.1,178.5 110.1,173.5 115.2,170.4 117.2,169.4 118.3,152.2 120.3,146.1 123.4,143.9 123.8,139.9 125.8,137.4 126.6,135.7 128.3,130.8 129.9,126.8 131.5,124.3 132.5,118.5 133,116.8 143.2,113.3 143.7,110.2 157.4,106.2 165.5,104.1 177.7,100.6 179,98.07" fill="none" stroke="#ff8040" stroke-width="1.0" stroke-linejoin="round" />
<polyline points="32.1,166.2 65,171 73.1,170.3 78.8,167.4 82,163.8 83.3,159.7 91,159.3 99.9,152.4 101.5,149.6 106.4,146.4 109.6,148 113.7,144.7 114.5,139.9 118.5,137.4 119.3,134.9 120.2,132.5 125.8,135.7 126.6,130.8 128.3,126 130.7,125.6 132,125.4 140.1,123.4 140.6,119.3 160.4,113.8 160.9,109.2 177.2,104.6 177.7,100.6 178.6,98.53" fill="none" stroke="#a3a32e" stroke-width="1.0" stroke-linejoin="round" />
<polyline points="32.1,167.4 48.3,163 51.5,164.2 65,171.5 69.9,173.1 83.7,172.3 87.7,171.9 100.7,168.5 102.5,160 105,158.9 107.2,157.7 109.6,150.4 112.4,150 116.1,151.6 116.9,144.7 119.3,138.2 122.2,137.4 122.6,134.9 125.8,130.8 127.5,126 129.9,125.2 130.7,121.9 133.1,120.3 148.3,116.8 148.8,113.3 157.4,110.2 157.9,106.2 165.5,104.1 177.7,100.6 179,98.12" fill="none" stroke="#22a67c" stroke-width="1.0" stroke-linejoin="round" />
<polyline points="32.1,169.1 34.5,167.4 37.5,167 52.3,174.7 54.8,173.1 64.5,176 65,178 80,183.2 104.8,194.3 105.4,189.8 106.9,185.7 118,189.3 119,185.2 121.1,171.5 129.4,173 129.9,165.4 130.4,158.3 131.4,153.2 132.5,150.1 133.5,149.1 134.5,145.1 136.1,139.6 140.1,138.6 141.2,134.6 143.2,132.5 144.2,126.4 145.7,124.4 146.7,118.3 148.3,116.8 148.8,113.3 160.4,109.7 165.5,108.2 166,104.1 177.7,100.6 179,98.12" fill="none" stroke="#ffb040" stroke-width="1.0" stroke-linejoin="round" />
<polyline points="31.8,165.5 46.7,166.6 49.9,164.6 54.8,161.4 60.5,159.3 61,157 62.4,154.1 82.3,150 83.5,145.2 87.6,143.1 88.8,137.8 94.1,135.8 95.7,131.4 97.3,132.2 101.5,129.2 109.6,133.3 110.6,132 111.4,124.5 113.7,125 114.3,122.8 117.1,116.5 119.4,117.1 122.2,113.1 126.8,112 127.9,109.7 131.9,109.4 133,108.3 134.7,107.9 170,100.9" fill="none" stroke="#a55a45" stroke-width="1.0" stroke-linejoin="round" />
<polyline points="32.1,164.2 35.7,162.2 68,174.3 84.5,180.4 86.9,176.8 99.3,174.1 100.7,173.1 103.1,167.5 105.5,165 107.2,160.2 109.2,157.7 112,158.5 113.7,151.2 114.5,143.1 116,137.5 118.5,134.1 119.9,132 120.5,125.6 122.2,123.3 122.5,118.8 124.5,117.6 125,114.8 127.3,113.7 127.9,109.7 132.4,109.1 133,108.5 170,100.5" fill="none" stroke="#383838" stroke-width="1.0" stroke-linejoin="round" />
<polyline points="170,100.5 259.3,76.73" fill="none" stroke="#383838" stroke-width="1.0" stroke-linejoin="round" />
<polyline points="179,98.12 259.3,76.76" fill="none" stroke="#ffb040" stroke-width="1.0" stroke-linejoin="round" />
<polyline points="179,98.12 259.3,76.76" fill="none" stroke="#22a67c" stroke-width="1.0" stroke-linejoin="round" />
<polyline points="179,98.07 259.3,76.75" fill="none" stroke="#ff8040" stroke-width="1.0" stroke-linejoin="round" />
<polyline points="178.6,98.53 259.3,76.85" fill="none" stroke="#a3a32e" stroke-width="1.0" stroke-linejoin="round" />
<polyline points="170,100.9 259.3,76.79" fill="none" stroke="#a55a45" stroke-width="1.0" stroke-linejoin="round" />
<polyline points="170,99.9 259.3,76.64" fill="none" stroke="#bd5cf5" stroke-width="1.0" stroke-linejoin="round" />
<polyline points="170,99.4 259.3,76.56" fill="none" stroke="#ff4272" stroke-width="1.0" stroke-linejoin="round" />
</svg></body></html>
